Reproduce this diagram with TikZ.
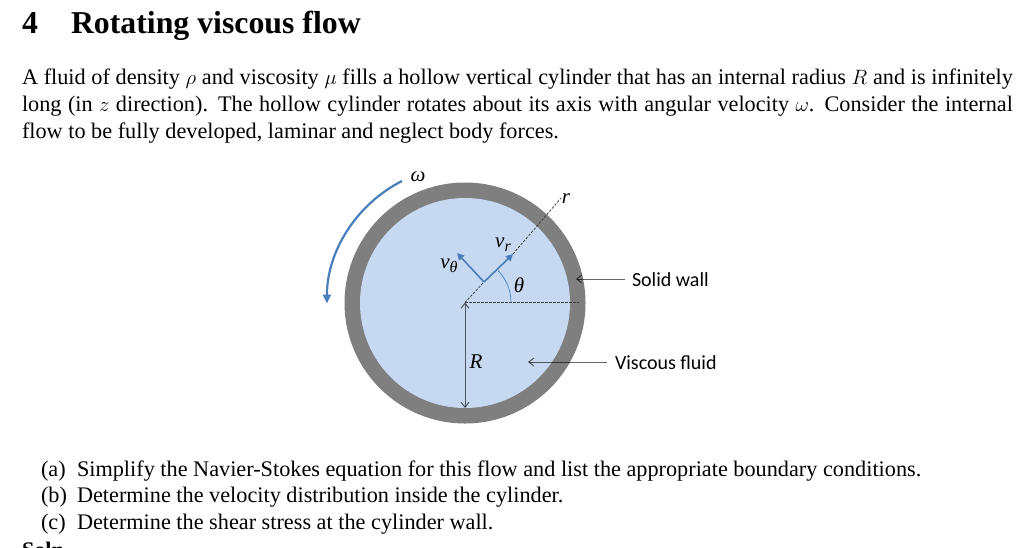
\documentclass[tikz,border=0pt]{standalone}
\usepackage{fontspec}
\setmainfont{Liberation Serif}
\newfontfamily\calib{Carlito}
\usetikzlibrary{arrows.meta}
\definecolor{wallgray}{HTML}{7F7F7F}
\definecolor{fluidblue}{HTML}{C6D9F1}
\definecolor{arrowblue}{HTML}{4A7EBB}
\tikzset{
  txt/.style={anchor=base west,inner sep=0pt,outer sep=0pt,font=\fontsize{22.25}{26}\selectfont},
  ttl/.style={anchor=base west,inner sep=0pt,outer sep=0pt,font=\fontsize{31.8}{36}\selectfont\bfseries},
  lbl/.style={anchor=base west,inner sep=0pt,outer sep=0pt,font=\calib\fontsize{20}{24}\selectfont},
  sym/.style={inner sep=0pt,outer sep=0pt,font=\fontsize{21}{25}\selectfont\itshape},
  thin arrow/.style={draw=black,draw opacity=0.6,line width=1pt,-{Straight Barb[length=5pt,width=8pt]}},
  blue arrow/.style={draw=arrowblue,line width=1.6pt,-{Triangle[length=7pt,width=7pt]}},
  dashline/.style={draw=black!75,line width=0.8pt,dash pattern=on 2.5pt off 1.5pt},
}
\newcommand{\just}[1]{\hbox to 991pt{#1}}
\newcommand{\subsym}[1]{\raisebox{-4pt}{\fontsize{16}{19}\selectfont\itshape #1}}
\begin{document}
\begin{tikzpicture}[x=1pt,y=-1pt]
\useasboundingbox (0,0) rectangle (1024,547);
% headings and text
\node[ttl] (secnum) at (22,33) {4};
\node[ttl] (title) at (71,33) {Rotating viscous flow};
\node[txt] (p1) at (22,84) {\just{A fluid of density $\rho$ and viscosity $\mu$ fills a hollow vertical cylinder that has an internal radius $R$ and is infinitely}};
\node[txt] (p2) at (22,111) {\just{long (in $z$ direction). The hollow cylinder rotates about its axis with angular velocity $\omega$. Consider the internal}};
\node[txt] (p3) at (22,138) {flow to be fully developed, laminar and neglect body forces.};
\node[txt] (qa) at (41,476) {(a)};
\node[txt] (qat) at (77,476) {Simplify the Navier-Stokes equation for this flow and list the appropriate boundary conditions.};
\node[txt] (qb) at (41,502) {(b)};
\node[txt] (qbt) at (77,502) {Determine the velocity distribution inside the cylinder.};
\node[txt] (qc) at (41,529) {(c)};
\node[txt] (qct) at (77,529) {Determine the shear stress at the cylinder wall.};
\node[txt,font=\fontsize{22.25}{26}\selectfont\bfseries] (soln) at (22,557) {Soln.};
% cylinder
\fill[wallgray] (465,303) circle[radius=120.5];
\fill[fluidblue] (465,303) circle[radius=105];
% key points
\coordinate (O) at (465,302.5);
\coordinate (rend) at (561,198);
\coordinate (hend) at (579,302.5);
\coordinate (vbase) at (484,282);
\coordinate (vrtip) at (513,254);
\coordinate (vttip) at (457,253);
\coordinate (Rend) at (465,408);
\coordinate (wallfrom) at (625,279);
\coordinate (wallto) at (576,279);
\coordinate (fluidfrom) at (607,362);
\coordinate (fluidto) at (528,362);
% dashed lines
\draw[dashline] (O) -- (vbase);
\draw[dashline] (vrtip) -- (rend);
\draw[dashline] (O) -- (hend);
% theta arc
\draw[arrowblue,line width=0.7pt] (511,302.5) arc[start angle=0,end angle=-44,radius=46];
% velocity vectors
\draw[blue arrow] (vbase) -- (vrtip);
\draw[blue arrow] (vbase) -- (vttip);
% omega arc
\draw[blue arrow,line width=2.2pt,-{Triangle[length=9pt,width=8pt]}] (402,181) arc[start angle=-117,end angle=-180,radius=137.5];
% R and leaders
\draw[thin arrow,{Straight Barb[length=5pt,width=8pt]}-{Straight Barb[length=5pt,width=8pt]}] (O) -- (Rend);
\draw[thin arrow] (wallfrom) -- (wallto);
\draw[thin arrow] (fluidfrom) -- (fluidto);
% labels
\node[sym] (lw) at (418,177) {ω};
\node[sym] (lr) at (566,199) {r};
\node[sym] (lvr) at (503,245) {v\subsym{r}};
\node[sym] (lvt) at (449,266) {v\subsym{θ}};
\node[sym] (lth) at (519,285) {θ};
\node[sym] (lR) at (476,362) {R};
\node[lbl] (solid) at (632,286) {Solid wall};
\node[lbl] (visc) at (615,369) {Viscous fluid};
\end{tikzpicture}
\end{document}
